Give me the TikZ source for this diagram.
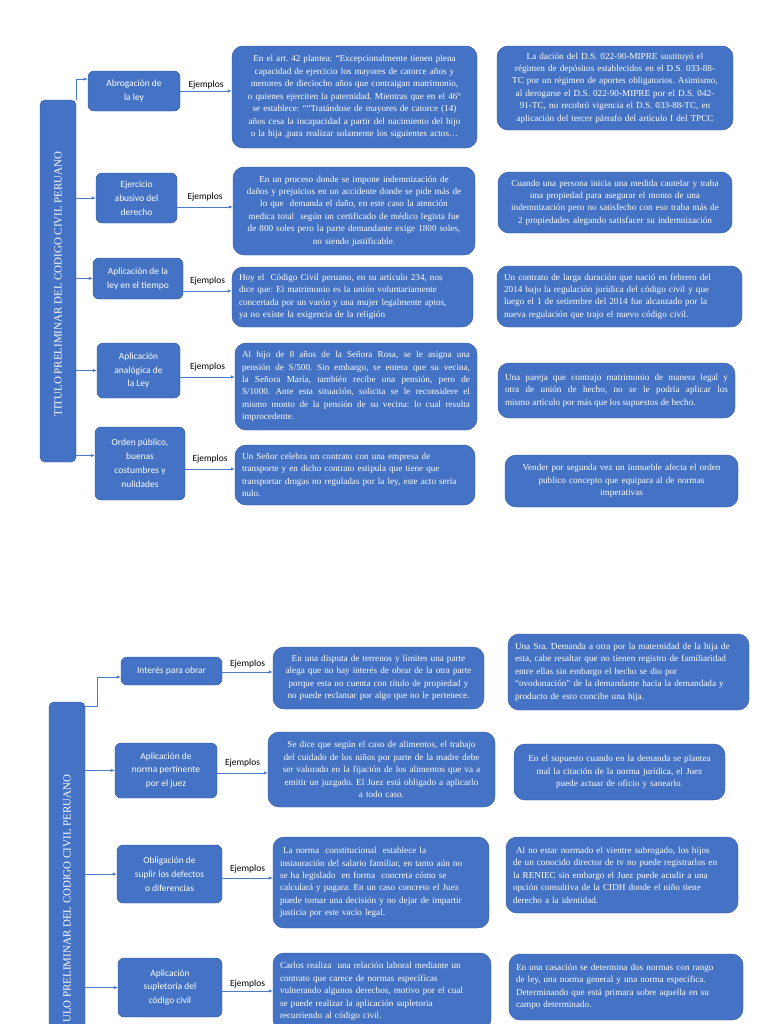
\documentclass[tikz,border=0pt]{standalone}
\usepackage{fontspec}
\setmainfont{Liberation Serif}
\newfontfamily\calibri{Carlito}
\usepackage{xcolor}
\definecolor{boxblue}{HTML}{4472C4}
\definecolor{boxline}{HTML}{2F5597}
\definecolor{lineblue}{HTML}{4A7BC8}
\usepackage{tikz}
\usetikzlibrary{arrows.meta,positioning,calc}
\frenchspacing
\tikzset{
  >={Latex[length=4pt,width=3.5pt]},
  barra/.style={rectangle,draw=boxline,fill=boxblue,rounded corners=5pt},
  titulo/.style={text=white,font=\fontsize{11}{12}\selectfont,inner sep=0pt},
  tema/.style={rectangle,draw=boxline,fill=boxblue,rounded corners=6pt,text=white,align=center,font=\calibri\fontsize{9.5}{14}\selectfont,inner sep=2pt},
  caso/.style={rectangle,draw=boxline,fill=boxblue,rounded corners=11pt,text=white,inner xsep=7bp,inner ysep=2pt,font=\fontsize{9.2}{12.5}\selectfont},
  link/.style={->,draw=lineblue,line width=0.7pt},
  etiq/.style={font=\calibri\fontsize{9.5}{10}\selectfont,inner sep=1pt}
}

\begin{document}
\begin{tikzpicture}[x=1bp,y=-1bp]
  \useasboundingbox (0,0) rectangle (768,1024);
  \clip (0,0) rectangle (768,1024);

  % primera parte
  \node[barra,minimum width=36bp,minimum height=362bp] (tit1) at (58,281) {};
  \node[titulo,rotate=90] at (58,284) {TITULO PRELIMINAR DEL CODIGO CIVIL PERUANO};

  \node[tema,minimum width=92bp,minimum height=40bp] (abrog) at (134,91) {Abrogación de\\la ley};
  \node[tema,minimum width=81bp,minimum height=50bp] (ejer) at (136.5,198) {Ejercicio\\abusivo del\\derecho};
  \node[tema,minimum width=90bp,minimum height=41bp] (tiempo) at (138,278.5) {Aplicación de la\\ley en el tiempo};
  \node[tema,minimum width=83bp,minimum height=55bp] (analog) at (138.5,370.5) {Aplicación\\analógica de\\la Ley};
  \node[tema,minimum width=90bp,minimum height=73bp] (orden) at (140,463.5) {Orden público,\\buenas\\costumbres y\\nulidades};

  \node[caso,align=center,text width=231bp,minimum height=102bp] (ej1) at (354.5,97) {En el art. 42 plantea: “Excepcionalmente tienen plena\\capacidad de ejercicio los mayores de catorce años y\\menores de dieciocho años que contraigan matrimonio,\\o quienes ejerciten la paternidad. Mientras que en el 46°\\se establece: ““Tratándose de mayores de catorce (14)\\años cesa la incapacidad a partir del nacimiento del hijo\\o la hija ,para realizar solamente los siguientes actos…};
  \node[caso,align=center,text width=228bp,minimum height=88bp] (ej2) at (354,211) {En un proceso donde se impone indemnización de\\daños y prejuicios en un accidente donde se pide más de\\lo que\ \ demanda el daño, en este caso la atención\\medica total\ \ según un certificado de médico legista fue\\de 800 soles pero la parte demandante exige 1800 soles,\\no siendo justificable.};
  \node[caso,align=left,text width=227bp,minimum height=60bp] (ej3) at (352.5,297) {Hoy el\ \ Código Civil peruano, en su artículo 234, nos\\dice que: El matrimonio es la unión voluntariamente\\concertada por un varón y una mujer legalmente aptos,\\ya no existe la exigencia de la religión};
  \node[caso,align=justify,text width=228bp,minimum height=87bp] (ej4) at (356,386.5) {Al hijo de 8 años de la Señora Rosa, se le asigna una\linebreak pensión de S/500. Sin embargo, se entera que su vecina,\linebreak la Señora María, también recibe una pensión, pero de\linebreak S/1000. Ante esta situación, solicita se le reconsidere el\linebreak mismo monto de la pensión de su vecina: lo cual resulta\linebreak improcedente.};
  \node[caso,align=left,text width=226bp,minimum height=60bp] (ej5) at (355,475) {Un Señor celebra un contrato con una empresa de\\transporte y en dicho contrato estipula que tiene que\\transportar drogas no reguladas por la ley, este acto sería\\nulo.};

  \node[caso,align=center,text width=222bp,minimum height=84bp] (cs1) at (615,88) {La dación del D.S. 022-90-MIPRE sustituyó el\\régimen de depósitos establecidos en el D.S. 033-88-\\TC por un régimen de aportes obligatorios. Asimismo,\\al derogarse el D.S. 022-90-MIPRE por el D.S. 042-\\91-TC, no recobró vigencia el D.S. 033-88-TC, en\\aplicación del tercer párrafo del artículo I del TPCC};
  \node[caso,align=center,text width=220bp,minimum height=61bp] (cs2) at (615,202.5) {Cuando una persona inicia una medida cautelar y traba\\una propiedad para asegurar el monto de una\\indemnización pero no satisfecho con eso traba más de\\2 propiedades alegando satisfacer su indemnización};
  \node[caso,align=left,text width=231bp,minimum height=61bp] (cs3) at (619.5,296.5) {Un contrato de larga duración que nació en febrero del\\2014 bajo la regulación jurídica del código civil y que\\luego el 1 de setiembre del 2014 fue alcanzado por la\\nueva regulación que trajo el nuevo código civil.};
  \node[caso,align=justify,text width=223bp,minimum height=55bp] (cs4) at (616.5,390.5) {Una pareja que contrajo matrimonio de manera legal y\linebreak otra de unión de hecho, no se le podría aplicar los\linebreak mismo artículo por más que los supuestos de hecho.};
  \node[caso,align=center,text width=219bp,minimum height=52bp] (cs5) at (621.5,481) {Vender por segunda vez un inmueble afecta el orden\\publico concepto que equipara al de normas\\imperativas};

  \coordinate (ordenin) at ([yshift=8bp]orden.west);
  \draw[link] (tit1.north east) |- ([yshift=12bp]abrog.west);
  \draw[link] (tit1.east |- ejer.west) -- (ejer.west);
  \draw[link] (tit1.east |- tiempo.west) -- (tiempo.west);
  \draw[link] (tit1.east |- analog.west) -- (analog.west);
  \draw[link] (tit1.east |- ordenin) -- (ordenin);

  \draw[link] (abrog.east) -- (abrog.east -| ej1.west) node[midway,etiq,above=1bp] {Ejemplos};
  \draw[link] ([yshift=-9bp]ejer.east) -- ([yshift=-9bp]ejer.east -| ej2.west) node[midway,etiq,above=5bp] {Ejemplos};
  \draw[link] ([yshift=-12.5bp]tiempo.east) -- ([yshift=-12.5bp]tiempo.east -| ej3.west) node[midway,etiq,above=5bp] {Ejemplos};
  \draw[link] ([yshift=-6.5bp]analog.east) -- ([yshift=-6.5bp]analog.east -| ej4.west) node[midway,etiq,above=5bp] {Ejemplos};
  \draw[link] ([yshift=-5.5bp]orden.east) -- ([yshift=-5.5bp]orden.east -| ej5.west) node[midway,etiq,above=5bp] {Ejemplos};

  % segunda parte
  \node[barra,minimum width=36bp,minimum height=338bp] (tit2) at (67,871) {};
  \node[titulo,rotate=90,anchor=west] at (67,1023) {ULO PRELIMINAR DEL CODIGO CIVIL PERUANO};

  \node[tema,minimum width=101bp,minimum height=28bp] (interes) at (171.5,671) {Interés para obrar};
  \node[tema,minimum width=102bp,minimum height=55bp] (pertin) at (166,770.5) {Aplicación de\\norma pertinente\\por el juez};
  \node[tema,minimum width=105bp,minimum height=58bp] (suplir) at (169.5,874) {Obligación de\\suplir los defectos\\o diferencias};
  \node[tema,minimum width=104bp,minimum height=59bp] (supleto) at (170,987.5) {Aplicación\\supletoria del\\código civil};

  \node[caso,align=center,text width=197bp,minimum height=62bp] (ej6) at (378.5,678) {En una disputa de terrenos y límites una parte\\alega que no hay interés de obrar de la otra parte\\porque esta no cuenta con título de propiedad y\\no puede reclamar por algo que no le pertenece.};
  \node[caso,align=center,text width=213bp,minimum height=75bp] (ej7) at (381.5,769.5) {Se dice que según el caso de alimentos, el trabajo\\del cuidado de los niños por parte de la madre debe\\ser valorado en la fijación de los alimentos que va a\\emitir un juzgado. El Juez está obligado a aplicarlo\\a todo caso.};
  \node[caso,align=left,text width=202bp,minimum height=91bp] (ej8) at (381,882.5) {\ La norma\ \ constitucional\ \ establece la\\instauración del salario familiar, en tanto aún no\\se ha legislado\ \ en forma\ \ concreta cómo se\\calculará y pagara. En un caso concreto el Juez\\puede tomar una decisión y no dejar de impartir\\justicia por este vacío legal.};
  \node[caso,align=left,text width=204bp,minimum height=77bp] (ej9) at (382,991.5) {Carlos realiza\ \ una relación laboral mediante un\\contrato que carece de normas específicas\\vulnerando algunos derechos, motivo por el cual\\se puede realizar la aplicación supletoria\\recurriendo al código civil.};

  \node[caso,align=left,text width=227bp,minimum height=76bp] (cs6) at (628.5,672) {Una Sra. Demanda a otra por la maternidad de la hija de\\esta, cabe resaltar que no tienen registro de familiaridad\\entre ellas sin embargo el hecho se dio por\\“ovodonación” de la demandante hacia la demandada y\\producto de esto concibe una hija.};
  \node[caso,align=center,text width=197bp,minimum height=56bp] (cs7) at (619.5,772) {En el supuesto cuando en la demanda se plantea\\mal la citación de la norma jurídica, el Juez\\puede actuar de oficio y sanearlo.};
  \node[caso,align=left,text width=218bp,minimum height=76bp] (cs8) at (622,875) {\ Al no estar normado el vientre subrogado, los hijos\\de un conocido director de tv no puede registrarlos en\\la RENIEC sin embargo el Juez puede acudir a una\\opción consultiva de la CIDH donde el niño tiene\\derecho a la identidad.};
  \node[caso,align=left,text width=220bp,minimum height=66bp] (cs9) at (626,987) {En una casación se determina dos normas con rango\\de ley, una norma general y una norma específica.\\Determinando que está primara sobre aquella en su\\campo determinado.};

  \draw[link] ([yshift=-5bp]tit2.north east) -- ++(12,0) |- ([yshift=-6bp]interes.west);
  \draw[link] (tit2.east |- pertin.west) -- (pertin.west);
  \draw[link] (tit2.east |- suplir.west) -- (suplir.west);
  \draw[link] (tit2.east |- supleto.west) -- (supleto.west);

  \draw[link] ([yshift=-1bp]interes.east) -- ([yshift=-1bp]interes.east -| ej6.west) node[midway,etiq,above=3bp] {Ejemplos};
  \draw[link] ([yshift=-2.5bp]pertin.east) -- ([yshift=-2.5bp]pertin.east -| ej7.west) node[midway,etiq,above=5bp] {Ejemplos};
  \draw[link] ([yshift=-4bp]suplir.east) -- ([yshift=-4bp]suplir.east -| ej8.west) node[midway,etiq,above=4bp] {Ejemplos};
  \draw[link] ([yshift=-3.5bp]supleto.east) -- ([yshift=-3.5bp]supleto.east -| ej9.west) node[midway,etiq,above=2bp] {Ejemplos};
\end{tikzpicture}
\end{document}
